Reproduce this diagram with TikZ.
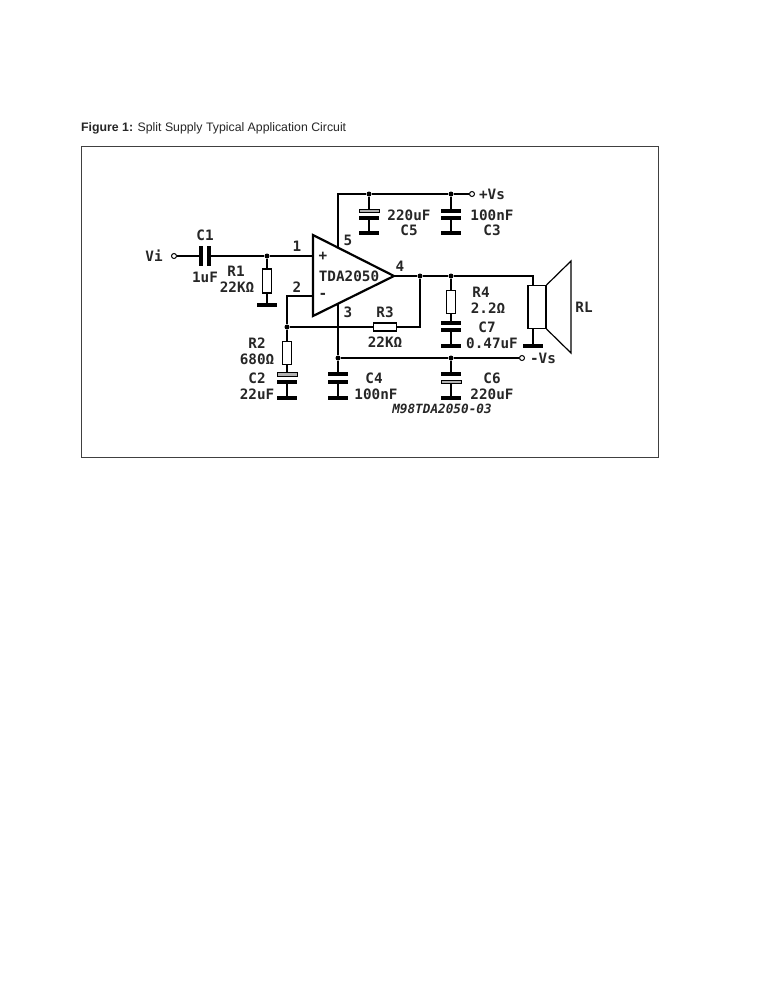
\documentclass[tikz,border=0pt]{standalone}
\usepackage{fontspec}
\setmainfont{Liberation Sans}
\newfontfamily\cktfont{DejaVu Sans Mono}
\tikzset{
  wire/.style={line width=1.2pt},
  junction/.style={circle,fill,inner sep=0pt,minimum size=5pt},
  terminal/.style={circle,draw,line width=1pt,fill=white,inner sep=0pt,minimum size=5pt},
  res/.style={rectangle,draw,line width=1.2pt,fill=white,inner sep=0pt},
  plate/.style={rectangle,fill,inner sep=0pt,minimum width=20pt,minimum height=4pt},
  hollowplate/.style={rectangle,draw,line width=1pt,fill=black!30,inner sep=0pt,minimum width=20pt,minimum height=3.6pt},
  groundbar/.style={rectangle,fill,inner sep=0pt,minimum width=20pt,minimum height=4.4pt},
  lbl/.style={font=\cktfont\bfseries\fontsize{14.3}{14}\selectfont,inner sep=0pt,text=black!85},
}
\begin{document}
\begin{tikzpicture}[x=1pt,y=-1pt]
\useasboundingbox (0,0) rectangle (768,994);
\node[anchor=base west,inner sep=0pt,font=\fontsize{12.3}{12}\selectfont,text=black!85] (title) at (81,131) {\textbf{Figure 1:} Split Supply Typical Application Circuit};
\node[draw=black!75,line width=1pt,rectangle,inner sep=0pt,minimum width=577pt,minimum height=310.5pt,anchor=north west] (frame) at (81,146) {};
% amplifier
\coordinate (ampT) at (313,235);
\coordinate (ampB) at (313,316);
\coordinate (ampO) at (394,276);
\coordinate (pin1) at (313,256);
\coordinate (pin2) at (313,296);
\coordinate (pin5) at (338,247);
\coordinate (pin3) at (338,304);
% input
\node[terminal] (vi) at (174,256) {};
\node[plate,minimum width=4pt,minimum height=20pt] (c1a) at (201,256) {};
\node[plate,minimum width=4pt,minimum height=20pt] (c1b) at (209,256) {};
\node[junction] (jin) at (267,256) {};
\draw[wire] (vi) -- (c1a);
\draw[wire] (c1b) -- (jin) -- (pin1);
\node[res,minimum width=9pt,minimum height=24pt] (r1) at (267,281) {};
\node[groundbar] (g1) at (267,305) {};
\draw[wire] (jin) -- (r1) -- (g1);
% feedback
\node[junction] (jfb) at (287,327) {};
\node[res,minimum width=9pt,minimum height=23pt] (r2) at (287,353) {};
\node[hollowplate] (c2a) at (287,374.5) {};
\node[plate] (c2b) at (287,381.5) {};
\node[groundbar] (g2) at (287,398) {};
\draw[wire] (pin2) -| (jfb) -- (r2) -- (c2a);
\draw[wire] (c2b) -- (g2);
\node[res,minimum width=23pt,minimum height=8pt] (r3) at (385,327) {};
\node[junction] (jout) at (420,276) {};
\draw[wire] (jfb) -- (r3) -| (jout);
% positive rail
\coordinate (railT) at (338,194);
\node[junction] (jc5) at (369,194) {};
\node[junction] (jc3) at (451,194) {};
\node[terminal] (vp) at (472,194) {};
\draw[wire] (pin5) -- (railT) -- (jc5) -- (jc3) -- (vp);
\node[hollowplate] (c5a) at (369,211) {};
\node[plate] (c5b) at (369,218) {};
\node[groundbar] (g5) at (369,233) {};
\draw[wire] (jc5) -- (c5a);
\draw[wire] (c5b) -- (g5);
\node[plate] (c3a) at (451,211) {};
\node[plate] (c3b) at (451,218) {};
\node[groundbar] (g3) at (451,233) {};
\draw[wire] (jc3) -- (c3a);
\draw[wire] (c3b) -- (g3);
% negative rail
\node[junction] (jneg) at (338,358) {};
\node[junction] (jc6) at (451,358) {};
\node[terminal] (vn) at (522,358) {};
\draw[wire] (pin3) -- (jneg);
\draw[wire] (jneg) -- (jc6) -- (vn);
\node[plate] (c4a) at (338,374) {};
\node[plate] (c4b) at (338,382) {};
\node[groundbar] (g4) at (338,398) {};
\draw[wire] (jneg) -- (c4a);
\draw[wire] (c4b) -- (g4);
\node[plate] (c6a) at (451,374) {};
\node[hollowplate] (c6b) at (451,382) {};
\node[groundbar] (g6) at (451,398) {};
\draw[wire] (jc6) -- (c6a);
\draw[wire] (c6b) -- (g6);
% output
\node[junction] (jr4) at (451,276) {};
\node[res,minimum width=9pt,minimum height=23pt] (r4) at (451,302) {};
\node[plate] (c7a) at (451,323) {};
\node[plate] (c7b) at (451,330) {};
\node[groundbar] (g7) at (451,346) {};
\draw[wire] (jr4) -- (r4) -- (c7a);
\draw[wire] (c7b) -- (g7);
\node[res,minimum width=18pt,minimum height=43pt] (spk) at (537,307) {};
\node[groundbar] (gs) at (533,346) {};
\coordinate (spkT) at (533,285);
\coordinate (spkB) at (533,328);
\draw[wire] (ampO) -- (jout) -- (jr4) -- (533,276) -- (spkT);
\draw[wire] (spkB) -- (gs);
\draw[wire] (spk.north east) -- (571,261) -- (571,353) -- (spk.south east);
\draw[line width=2.2pt,line join=miter,fill=white] (ampT) -- (ampO) -- (ampB) -- cycle;
% labels
\node[lbl] (lvi) at (154,256) {Vi};
\node[lbl] (lc1) at (205,235) {C1};
\node[lbl] (lc1v) at (205,277) {1uF};
\node[lbl] (lr1) at (236,271) {R1};
\node[lbl] (lr1v) at (237,287) {22KΩ};
\node[lbl] (l1) at (297,246) {1};
\node[lbl] (l2) at (297,287) {2};
\node[lbl] (l3) at (348,312) {3};
\node[lbl] (l4) at (400,266) {4};
\node[lbl] (l5) at (348,240) {5};
\node[lbl] (lplus) at (323,256) {+};
\node[lbl] (lminus) at (323,296) {-};
\node[lbl] (lamp) at (349,276) {TDA2050};
\node[lbl] (lc5v) at (409,215) {220uF};
\node[lbl] (lc5) at (409,230) {C5};
\node[lbl] (lc3v) at (492,215) {100nF};
\node[lbl] (lc3) at (492,230) {C3};
\node[lbl] (lvp) at (492,194) {+Vs};
\node[lbl] (lr4) at (481,292) {R4};
\node[lbl] (lr4v) at (488,308) {2.2Ω};
\node[lbl] (lr3) at (385,312) {R3};
\node[lbl] (lr3v) at (385,342) {22KΩ};
\node[lbl] (lc7) at (487,327) {C7};
\node[lbl] (lc7v) at (492,343) {0.47uF};
\node[lbl] (lvn) at (543,358) {-Vs};
\node[lbl] (lr2) at (257,343) {R2};
\node[lbl] (lr2v) at (257,359) {680Ω};
\node[lbl] (lc2) at (257,378) {C2};
\node[lbl] (lc2v) at (257,394) {22uF};
\node[lbl] (lc4) at (374,378) {C4};
\node[lbl] (lc4v) at (376,394) {100nF};
\node[lbl] (lc6) at (492,378) {C6};
\node[lbl] (lc6v) at (492,394) {220uF};
\node[lbl] (lrl) at (584,307) {RL};
\node[lbl,font=\cktfont\bfseries\itshape\fontsize{12.7}{12}\selectfont] (lcode) at (442,409) {M98TDA2050-03};
\end{tikzpicture}
\end{document}
